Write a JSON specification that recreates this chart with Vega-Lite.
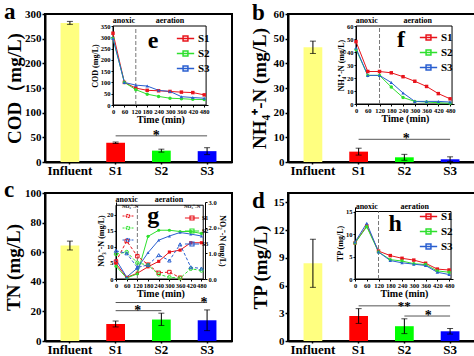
{
"$schema":"https://vega.github.io/schema/vega-lite/v6.json",
"autosize":{"type":"pad"},
"padding":{"left":2,"top":0,"right":0,"bottom":0},
"background":"white",
"config":{
 "font":"Liberation Serif",
 "view":{"stroke":"black","strokeWidth":2},
 "axis":{"grid":false,"labelOverlap":false,"domainColor":"black","domainWidth":2,"tickColor":"black","tickWidth":1.5,"labelColor":"black","titleColor":"black","labelFont":"Liberation Serif","titleFont":"Liberation Serif","labelFontWeight":"bold","titleFontWeight":"bold"},
 "legend":{"labelFont":"Liberation Serif","labelFontWeight":"bold","titleFont":"Liberation Serif","labelColor":"black"},
 "text":{"font":"Liberation Serif","fontWeight":"bold","color":"black"}
},
"datasets":{
 "one":[{}],
 "bar_a":[{"group":"Influent","mean":282,"lo":279,"hi":285},{"group":"S1","mean":39,"lo":37.5,"hi":40.5},{"group":"S2","mean":23,"lo":20,"hi":26},{"group":"S3","mean":22,"lo":15,"hi":29}],
 "sig_a":[{"from":"S1","to":"S3","at":"S2","y":53,"label":"*","k":1}],
 "bar_b":[{"group":"Influent","mean":46.5,"lo":44,"hi":49},{"group":"S1","mean":4.2,"lo":2.8,"hi":5.6},{"group":"S2","mean":1.9,"lo":0.7,"hi":3.1},{"group":"S3","mean":1.1,"lo":0.2,"hi":2.1}],
 "sig_b":[{"from":"S1","to":"S3","at":"S2","y":9.2,"label":"*","k":1}],
 "bar_c":[{"group":"Influent","mean":64.5,"lo":61.5,"hi":67.5},{"group":"S1","mean":11.5,"lo":9.5,"hi":13.5},{"group":"S2","mean":14.5,"lo":10.5,"hi":18.8},{"group":"S3","mean":14,"lo":7,"hi":21}],
 "sig_c":[{"from":"S1","to":"S3","at":"S3","y":26,"label":"*","k":1},{"from":"S1","to":"S2","at":"S1","y":20.5,"label":"*","k":2}],
 "bar_d":[{"group":"Influent","mean":8.4,"lo":5.8,"hi":11.0},{"group":"S1","mean":2.7,"lo":1.9,"hi":3.5},{"group":"S2","mean":1.6,"lo":0.8,"hi":2.4},{"group":"S3","mean":1.05,"lo":0.75,"hi":1.35}],
 "sig_d":[{"from":"S1","to":"S3","at":"S2","y":3.8,"label":"**","k":1},{"from":"S2","to":"S3","at":"S2","y":2.7,"label":"*","k":2}],
 "cod":[
  {"t":0,"s":"S1","v":318},{"t":60,"s":"S1","v":100},{"t":120,"s":"S1","v":75},{"t":180,"s":"S1","v":65},{"t":240,"s":"S1","v":63},{"t":300,"s":"S1","v":60},{"t":360,"s":"S1","v":57},{"t":420,"s":"S1","v":55},{"t":480,"s":"S1","v":45},
  {"t":0,"s":"S2","v":295},{"t":60,"s":"S2","v":100},{"t":120,"s":"S2","v":68},{"t":180,"s":"S2","v":48},{"t":240,"s":"S2","v":38},{"t":300,"s":"S2","v":30},{"t":360,"s":"S2","v":28},{"t":420,"s":"S2","v":25},{"t":480,"s":"S2","v":24},
  {"t":0,"s":"S3","v":295},{"t":60,"s":"S3","v":100},{"t":120,"s":"S3","v":88},{"t":180,"s":"S3","v":84},{"t":240,"s":"S3","v":65},{"t":300,"s":"S3","v":60},{"t":360,"s":"S3","v":37},{"t":420,"s":"S3","v":33},{"t":480,"s":"S3","v":30}],
 "nh4":[
  {"t":0,"s":"S1","v":48},{"t":60,"s":"S1","v":25},{"t":120,"s":"S1","v":25},{"t":180,"s":"S1","v":24},{"t":240,"s":"S1","v":21},{"t":300,"s":"S1","v":17.5},{"t":360,"s":"S1","v":13.5},{"t":420,"s":"S1","v":8},{"t":480,"s":"S1","v":4},
  {"t":0,"s":"S2","v":42},{"t":60,"s":"S2","v":22},{"t":120,"s":"S2","v":22},{"t":180,"s":"S2","v":13},{"t":240,"s":"S2","v":5},{"t":300,"s":"S2","v":2},{"t":360,"s":"S2","v":1.5},{"t":420,"s":"S2","v":1},{"t":480,"s":"S2","v":0.5},
  {"t":0,"s":"S3","v":43},{"t":60,"s":"S3","v":22},{"t":120,"s":"S3","v":22},{"t":180,"s":"S3","v":16.5},{"t":240,"s":"S3","v":8.5},{"t":300,"s":"S3","v":2},{"t":360,"s":"S3","v":2},{"t":420,"s":"S3","v":2},{"t":480,"s":"S3","v":1.5}],
 "no3":[
  {"t":0,"s":"S1","v":4.8},{"t":60,"s":"S1","v":0.5},{"t":120,"s":"S1","v":1.8},{"t":180,"s":"S1","v":3.8},{"t":240,"s":"S1","v":5.5},{"t":300,"s":"S1","v":8.4},{"t":360,"s":"S1","v":9},{"t":420,"s":"S1","v":11.3},{"t":480,"s":"S1","v":11.3},
  {"t":0,"s":"S2","v":4},{"t":60,"s":"S2","v":0.3},{"t":120,"s":"S2","v":1.6},{"t":180,"s":"S2","v":13.3},{"t":240,"s":"S2","v":15.2},{"t":300,"s":"S2","v":15.2},{"t":360,"s":"S2","v":14.8},{"t":420,"s":"S2","v":14.8},{"t":480,"s":"S2","v":14.2},
  {"t":0,"s":"S3","v":6},{"t":60,"s":"S3","v":0.6},{"t":120,"s":"S3","v":3.4},{"t":180,"s":"S3","v":8.2},{"t":240,"s":"S3","v":12.1},{"t":300,"s":"S3","v":13.4},{"t":360,"s":"S3","v":14.5},{"t":420,"s":"S3","v":14},{"t":480,"s":"S3","v":13.4}],
 "no2":[
  {"t":0,"s":"S1","v":0.68},{"t":60,"s":"S1","v":1.48},{"t":120,"s":"S1","v":0.89},{"t":180,"s":"S1","v":0.56},{"t":240,"s":"S1","v":0.24},{"t":300,"s":"S1","v":0.27},{"t":360,"s":"S1","v":0.05},
  {"t":0,"s":"S2","v":0.97},{"t":60,"s":"S2","v":1.05},{"t":120,"s":"S2","v":0.63},{"t":180,"s":"S2","v":0.54},{"t":240,"s":"S2","v":0.18},{"t":300,"s":"S2","v":0.07},{"t":360,"s":"S2","v":0.03},{"t":420,"s":"S2","v":0.4},{"t":480,"s":"S2","v":0.33},
  {"t":0,"s":"S3","v":1.1},{"t":60,"s":"S3","v":1.0},{"t":120,"s":"S3","v":0.45},{"t":180,"s":"S3","v":0.55},{"t":240,"s":"S3","v":0.93},{"t":300,"s":"S3","v":0.72},{"t":360,"s":"S3","v":1.35},{"t":420,"s":"S3","v":0.46},{"t":480,"s":"S3","v":0.41}],
 "tp":[
  {"t":0,"s":"S1","v":8},{"t":60,"s":"S1","v":11.8},{"t":120,"s":"S1","v":6.2},{"t":180,"s":"S1","v":5.2},{"t":240,"s":"S1","v":4.6},{"t":300,"s":"S1","v":4.2},{"t":360,"s":"S1","v":3.5},{"t":420,"s":"S1","v":2.2},{"t":480,"s":"S1","v":2.0},
  {"t":0,"s":"S2","v":8},{"t":60,"s":"S2","v":11.6},{"t":120,"s":"S2","v":6.0},{"t":180,"s":"S2","v":4.3},{"t":240,"s":"S2","v":4.0},{"t":300,"s":"S2","v":3.4},{"t":360,"s":"S2","v":3.2},{"t":420,"s":"S2","v":1.8},{"t":480,"s":"S2","v":1.5},
  {"t":0,"s":"S3","v":8.2},{"t":60,"s":"S3","v":12.4},{"t":120,"s":"S3","v":6.0},{"t":180,"s":"S3","v":4.1},{"t":240,"s":"S3","v":3.6},{"t":300,"s":"S3","v":3.3},{"t":360,"s":"S3","v":3.0},{"t":420,"s":"S3","v":1.5},{"t":480,"s":"S3","v":1.0}]
},
"columns":2,
"spacing":{"row":31,"column":56},
"bounds":"flush",
"concat":[
{
 "width":187,"height":148,
 "layer":[
  {"layer":[
   {"data":{"name":"bar_a"},"mark":{"type":"bar"},"encoding":{
     "x":{"field":"group","type":"nominal","sort":["Influent","S1","S2","S3"],"scale":{"paddingInner":0.59,"paddingOuter":0.34},"axis":{"title":null,"labelAngle":0,"labelFontSize":13,"tickSize":2,"labelPadding":0}},
     "y":{"field":"mean","type":"quantitative","scale":{"domain":[0,300]},"axis":{"title":"COD（mg/L)","values":[0,50,100,150,200,250,300],"tickCount":20,"labelOverlap":false,"labelFontSize":11,"titleFontSize":19,"tickSize":3,"labelPadding":1,"titlePadding":0}},
     "color":{"field":"group","type":"nominal","scale":{"domain":["Influent","S1","S2","S3"],"range":["#ffff80","#ff0000","#00ff00","#0000ff"]},"legend":null}}},
   {"data":{"name":"bar_a"},"mark":{"type":"rule","color":"black","strokeWidth":1},"encoding":{"x":{"field":"group","type":"nominal","sort":["Influent","S1","S2","S3"]},"y":{"field":"lo","type":"quantitative"},"y2":{"field":"hi"}}},
   {"data":{"name":"bar_a"},"mark":{"type":"tick","color":"black","size":6,"thickness":1},"encoding":{"x":{"field":"group","type":"nominal","sort":["Influent","S1","S2","S3"]},"y":{"field":"lo","type":"quantitative"}}},
   {"data":{"name":"bar_a"},"mark":{"type":"tick","color":"black","size":6,"thickness":1},"encoding":{"x":{"field":"group","type":"nominal","sort":["Influent","S1","S2","S3"]},"y":{"field":"hi","type":"quantitative"}}},
   {"data":{"name":"sig_a"},"mark":{"type":"rule","color":"#555555","strokeWidth":1},"encoding":{"x":{"field":"from","type":"nominal","sort":["Influent","S1","S2","S3"]},"x2":{"field":"to"},"y":{"field":"y","type":"quantitative"}}},
   {"data":{"name":"sig_a"},"mark":{"type":"text","fontSize":14,"dy":4,"dx":-5,"baseline":"alphabetic"},"encoding":{"x":{"field":"at","type":"nominal","sort":["Influent","S1","S2","S3"]},"y":{"field":"y","type":"quantitative"},"text":{"field":"label"}}},
   {"data":{"name":"one"},"mark":{"type":"text","fontSize":23,"baseline":"alphabetic","align":"left","dx":-66,"dy":5},"encoding":{"x":{"datum":"Influent","type":"nominal"},"y":{"datum":300,"type":"quantitative"},"text":{"value":"a"}}}
  ]},
  {"layer":[
   {"data":{"name":"one"},"mark":{"type":"rect","fillOpacity":0,"stroke":"black","strokeWidth":1},"encoding":{"x":{"datum":0,"type":"quantitative","scale":{"domain":[0,490],"range":[68,163]}},"x2":{"datum":490},"y":{"datum":0,"type":"quantitative","scale":{"domain":[0,350],"range":[91,12]}},"y2":{"datum":350}}},
   {"data":{"name":"one"},"mark":{"type":"rule","color":"#777777","strokeWidth":1,"strokeDash":[4,2]},"encoding":{"x":{"datum":120,"type":"quantitative"},"y":{"datum":0,"type":"quantitative"},"y2":{"datum":350}}},
   {"data":{"name":"cod"},"mark":{"type":"line","strokeWidth":1},"encoding":{
     "x":{"field":"t","type":"quantitative","scale":{"domain":[0,490],"range":[68,163]},"axis":{"orient":"bottom","offset":-57,"values":[0,60,120,180,240,300,360,420,480],"tickCount":20,"labelOverlap":false,"title":"Time (min)","titleFontSize":10,"labelFontSize":6.5,"tickSize":2,"tickWidth":1,"labelPadding":1,"titlePadding":0,"domainWidth":1,"labelFlush":false}},
     "y":{"field":"v","type":"quantitative","scale":{"domain":[0,350],"range":[91,12]},"axis":{"orient":"left","offset":-68,"values":[0,50,100,150,200,250,300,350],"tickCount":20,"labelOverlap":false,"title":"COD (mg/L)","titleFontSize":8,"labelFontSize":6.5,"tickSize":2,"tickWidth":1,"labelPadding":1,"titlePadding":1,"domainWidth":1}},
     "color":{"field":"s","type":"nominal","scale":{"domain":["S1","S2","S3"],"range":["#e8141c","#2ee02e","#2a5fd0"]},"legend":{"orient":"none","legendX":131,"legendY":15,"title":null,"labelFontSize":11,"symbolType":"M-1,0H1M-0.28,-0.28H0.28V0.28H-0.28Z","symbolSize":300,"symbolStrokeWidth":1.5,"rowPadding":0,"labelOffset":3}}}},
   {"data":{"name":"cod"},"transform":[{"filter":"datum.s=='S1'"}],"mark":{"type":"point","shape":"square","filled":true,"size":12,"opacity":1,"color":"#e8141c"},"encoding":{"x":{"field":"t","type":"quantitative"},"y":{"field":"v","type":"quantitative"}}},
   {"data":{"name":"cod"},"transform":[{"filter":"datum.s=='S2'"}],"mark":{"type":"point","shape":"circle","filled":true,"size":12,"opacity":1,"color":"#2ee02e"},"encoding":{"x":{"field":"t","type":"quantitative"},"y":{"field":"v","type":"quantitative"}}},
   {"data":{"name":"cod"},"transform":[{"filter":"datum.s=='S3'"}],"mark":{"type":"point","shape":"triangle-up","filled":true,"size":12,"opacity":1,"color":"#2a5fd0"},"encoding":{"x":{"field":"t","type":"quantitative"},"y":{"field":"v","type":"quantitative"}}},
   {"data":{"name":"one"},"mark":{"type":"text","fontSize":8,"baseline":"bottom","dy":-1},"encoding":{"x":{"datum":57,"type":"quantitative"},"y":{"datum":350,"type":"quantitative"},"text":{"value":"anoxic"}}},
   {"data":{"name":"one"},"mark":{"type":"text","fontSize":8,"baseline":"bottom","dy":-1},"encoding":{"x":{"datum":300,"type":"quantitative"},"y":{"datum":350,"type":"quantitative"},"text":{"value":"aeration"}}},
   {"data":{"name":"one"},"mark":{"type":"text","fontSize":24,"baseline":"middle"},"encoding":{"x":{"datum":211,"type":"quantitative"},"y":{"datum":283,"type":"quantitative"},"text":{"value":"e"}}}
  ]}
 ],
 "resolve":{"scale":{"x":"independent","y":"independent","color":"independent"}}
},
{
 "width":187,"height":148,
 "layer":[
  {"layer":[
   {"data":{"name":"bar_b"},"mark":{"type":"bar"},"encoding":{
     "x":{"field":"group","type":"nominal","sort":["Influent","S1","S2","S3"],"scale":{"paddingInner":0.59,"paddingOuter":0.34},"axis":{"title":null,"labelAngle":0,"labelFontSize":13,"tickSize":2,"labelPadding":0}},
     "y":{"field":"mean","type":"quantitative","scale":{"domain":[0,60]},"axis":{"title":"NH₄⁺-N (mg/L)","values":[0,10,20,30,40,50,60],"tickCount":20,"labelOverlap":false,"labelFontSize":11,"titleFontSize":19,"tickSize":3,"labelPadding":1,"titlePadding":4}},
     "color":{"field":"group","type":"nominal","scale":{"domain":["Influent","S1","S2","S3"],"range":["#ffff80","#ff0000","#00ff00","#0000ff"]},"legend":null}}},
   {"data":{"name":"bar_b"},"mark":{"type":"rule","color":"black","strokeWidth":1},"encoding":{"x":{"field":"group","type":"nominal","sort":["Influent","S1","S2","S3"]},"y":{"field":"lo","type":"quantitative"},"y2":{"field":"hi"}}},
   {"data":{"name":"bar_b"},"mark":{"type":"tick","color":"black","size":6,"thickness":1},"encoding":{"x":{"field":"group","type":"nominal","sort":["Influent","S1","S2","S3"]},"y":{"field":"lo","type":"quantitative"}}},
   {"data":{"name":"bar_b"},"mark":{"type":"tick","color":"black","size":6,"thickness":1},"encoding":{"x":{"field":"group","type":"nominal","sort":["Influent","S1","S2","S3"]},"y":{"field":"hi","type":"quantitative"}}},
   {"data":{"name":"sig_b"},"mark":{"type":"rule","color":"#555555","strokeWidth":1},"encoding":{"x":{"field":"from","type":"nominal","sort":["Influent","S1","S2","S3"]},"x2":{"field":"to"},"y":{"field":"y","type":"quantitative"}}},
   {"data":{"name":"sig_b"},"mark":{"type":"text","fontSize":14,"dy":4,"dx":2,"baseline":"alphabetic"},"encoding":{"x":{"field":"at","type":"nominal","sort":["Influent","S1","S2","S3"]},"y":{"field":"y","type":"quantitative"},"text":{"field":"label"}}},
   {"data":{"name":"one"},"mark":{"type":"text","fontSize":23,"baseline":"alphabetic","align":"left","dx":-61,"dy":6},"encoding":{"x":{"datum":"Influent","type":"nominal"},"y":{"datum":60,"type":"quantitative"},"text":{"value":"b"}}}
  ]},
  {"layer":[
   {"data":{"name":"one"},"mark":{"type":"rect","fillOpacity":0,"stroke":"black","strokeWidth":1},"encoding":{"x":{"datum":0,"type":"quantitative","scale":{"domain":[0,490],"range":[68,166]}},"x2":{"datum":490},"y":{"datum":0,"type":"quantitative","scale":{"domain":[0,60],"range":[90,12]}},"y2":{"datum":60}}},
   {"data":{"name":"one"},"mark":{"type":"rule","color":"#777777","strokeWidth":1,"strokeDash":[4,2]},"encoding":{"x":{"datum":120,"type":"quantitative"},"y":{"datum":0,"type":"quantitative"},"y2":{"datum":60}}},
   {"data":{"name":"nh4"},"mark":{"type":"line","strokeWidth":1},"encoding":{
     "x":{"field":"t","type":"quantitative","scale":{"domain":[0,490],"range":[68,166]},"axis":{"orient":"bottom","offset":-58,"values":[0,60,120,180,240,300,360,420,480],"tickCount":20,"labelOverlap":false,"title":"Time (min)","titleFontSize":10,"labelFontSize":6.5,"tickSize":2,"tickWidth":1,"labelPadding":1,"titlePadding":0,"domainWidth":1,"labelFlush":false}},
     "y":{"field":"v","type":"quantitative","scale":{"domain":[0,60],"range":[90,12]},"axis":{"orient":"left","offset":-68,"values":[0,10,20,30,40,50,60],"tickCount":20,"labelOverlap":false,"title":"NH₄⁺-N (mg/L)","titleFontSize":8,"labelFontSize":6.5,"tickSize":2,"tickWidth":1,"labelPadding":1,"titlePadding":1,"domainWidth":1}},
     "color":{"field":"s","type":"nominal","scale":{"domain":["S1","S2","S3"],"range":["#e8141c","#2ee02e","#2a5fd0"]},"legend":{"orient":"none","legendX":131,"legendY":14,"title":null,"labelFontSize":11,"symbolType":"M-1,0H1M-0.28,-0.28H0.28V0.28H-0.28Z","symbolSize":300,"symbolStrokeWidth":1.5,"rowPadding":0,"labelOffset":3}}}},
   {"data":{"name":"nh4"},"transform":[{"filter":"datum.s=='S1'"}],"mark":{"type":"point","shape":"square","filled":true,"size":12,"opacity":1,"color":"#e8141c"},"encoding":{"x":{"field":"t","type":"quantitative"},"y":{"field":"v","type":"quantitative"}}},
   {"data":{"name":"nh4"},"transform":[{"filter":"datum.s=='S2'"}],"mark":{"type":"point","shape":"circle","filled":true,"size":12,"opacity":1,"color":"#2ee02e"},"encoding":{"x":{"field":"t","type":"quantitative"},"y":{"field":"v","type":"quantitative"}}},
   {"data":{"name":"nh4"},"transform":[{"filter":"datum.s=='S3'"}],"mark":{"type":"point","shape":"triangle-up","filled":true,"size":12,"opacity":1,"color":"#2a5fd0"},"encoding":{"x":{"field":"t","type":"quantitative"},"y":{"field":"v","type":"quantitative"}}},
   {"data":{"name":"one"},"mark":{"type":"text","fontSize":8,"baseline":"bottom","dy":-1},"encoding":{"x":{"datum":55,"type":"quantitative"},"y":{"datum":60,"type":"quantitative"},"text":{"value":"anoxic"}}},
   {"data":{"name":"one"},"mark":{"type":"text","fontSize":8,"baseline":"bottom","dy":-1},"encoding":{"x":{"datum":315,"type":"quantitative"},"y":{"datum":60,"type":"quantitative"},"text":{"value":"aeration"}}},
   {"data":{"name":"one"},"mark":{"type":"text","fontSize":24,"baseline":"middle"},"encoding":{"x":{"datum":230,"type":"quantitative"},"y":{"datum":49,"type":"quantitative"},"text":{"value":"f"}}}
  ]}
 ],
 "resolve":{"scale":{"x":"independent","y":"independent","color":"independent"}}
},
{
 "width":187,"height":148,
 "layer":[
  {"layer":[
   {"data":{"name":"bar_c"},"mark":{"type":"bar"},"encoding":{
     "x":{"field":"group","type":"nominal","sort":["Influent","S1","S2","S3"],"scale":{"paddingInner":0.59,"paddingOuter":0.34},"axis":{"title":null,"labelAngle":0,"labelFontSize":13,"tickSize":2,"labelPadding":0}},
     "y":{"field":"mean","type":"quantitative","scale":{"domain":[0,100]},"axis":{"title":"TN (mg/L)","values":[0,20,40,60,80,100],"tickCount":20,"labelOverlap":false,"labelFontSize":11,"titleFontSize":19,"tickSize":3,"labelPadding":1,"titlePadding":1}},
     "color":{"field":"group","type":"nominal","scale":{"domain":["Influent","S1","S2","S3"],"range":["#ffff80","#ff0000","#00ff00","#0000ff"]},"legend":null}}},
   {"data":{"name":"bar_c"},"mark":{"type":"rule","color":"black","strokeWidth":1},"encoding":{"x":{"field":"group","type":"nominal","sort":["Influent","S1","S2","S3"]},"y":{"field":"lo","type":"quantitative"},"y2":{"field":"hi"}}},
   {"data":{"name":"bar_c"},"mark":{"type":"tick","color":"black","size":6,"thickness":1},"encoding":{"x":{"field":"group","type":"nominal","sort":["Influent","S1","S2","S3"]},"y":{"field":"lo","type":"quantitative"}}},
   {"data":{"name":"bar_c"},"mark":{"type":"tick","color":"black","size":6,"thickness":1},"encoding":{"x":{"field":"group","type":"nominal","sort":["Influent","S1","S2","S3"]},"y":{"field":"hi","type":"quantitative"}}},
   {"data":{"name":"sig_c"},"mark":{"type":"rule","color":"#555555","strokeWidth":1},"encoding":{"x":{"field":"from","type":"nominal","sort":["Influent","S1","S2","S3"]},"x2":{"field":"to"},"y":{"field":"y","type":"quantitative"}}},
   {"data":{"name":"sig_c"},"transform":[{"filter":"datum.k==1"}],"mark":{"type":"text","fontSize":14,"dy":4,"dx":-3,"baseline":"alphabetic"},"encoding":{"x":{"field":"at","type":"nominal","sort":["Influent","S1","S2","S3"]},"y":{"field":"y","type":"quantitative"},"text":{"field":"label"}}},
   {"data":{"name":"sig_c"},"transform":[{"filter":"datum.k==2"}],"mark":{"type":"text","fontSize":14,"dy":4,"dx":22,"baseline":"alphabetic"},"encoding":{"x":{"field":"at","type":"nominal","sort":["Influent","S1","S2","S3"]},"y":{"field":"y","type":"quantitative"},"text":{"field":"label"}}},
   {"data":{"name":"one"},"mark":{"type":"text","fontSize":23,"baseline":"alphabetic","align":"left","dx":-66,"dy":4},"encoding":{"x":{"datum":"Influent","type":"nominal"},"y":{"datum":100,"type":"quantitative"},"text":{"value":"c"}}}
  ]},
  {"layer":[
   {"layer":[
    {"data":{"name":"one"},"mark":{"type":"rect","fillOpacity":0,"stroke":"black","strokeWidth":1},"encoding":{"x":{"datum":0,"type":"quantitative","scale":{"domain":[0,490],"range":[71,160]}},"x2":{"datum":490},"y":{"datum":0,"type":"quantitative","scale":{"domain":[0,23],"range":[86,9]}},"y2":{"datum":23}}},
    {"data":{"name":"one"},"mark":{"type":"rule","color":"#777777","strokeWidth":1,"strokeDash":[4,2]},"encoding":{"x":{"datum":120,"type":"quantitative"},"y":{"datum":0,"type":"quantitative"},"y2":{"datum":23}}},
    {"data":{"name":"no3"},"mark":{"type":"line","strokeWidth":1},"encoding":{
      "x":{"field":"t","type":"quantitative","scale":{"domain":[0,490],"range":[71,160]},"axis":{"orient":"bottom","offset":-62,"values":[0,60,120,180,240,300,360,420,480],"tickCount":20,"labelOverlap":false,"title":"Time (min)","titleFontSize":10,"labelFontSize":6.5,"tickSize":2,"tickWidth":1,"labelPadding":1,"titlePadding":0,"domainWidth":1,"labelFlush":false}},
      "y":{"field":"v","type":"quantitative","scale":{"domain":[0,23],"range":[86,9]},"axis":{"orient":"left","offset":-71,"values":[0,5,10,15,20],"tickCount":20,"labelOverlap":false,"title":"NO₃⁻-N (mg/L)","titleFontSize":8,"labelFontSize":6.5,"tickSize":2,"tickWidth":1,"labelPadding":1,"titlePadding":1,"domainWidth":1}},
      "color":{"field":"s","type":"nominal","scale":{"domain":["S1","S2","S3"],"range":["#e8141c","#2ee02e","#2a5fd0"]},"legend":{"orient":"none","legendX":139,"legendY":11,"title":"NO₃⁻-N","titleFontSize":5,"titlePadding":1,"labelFontSize":6,"symbolType":"M-1,0H1M-0.28,-0.28H0.28V0.28H-0.28Z","symbolSize":200,"symbolStrokeWidth":1.2,"rowPadding":0,"labelOffset":2}}}},
    {"data":{"name":"no3"},"transform":[{"filter":"datum.s=='S1'"}],"mark":{"type":"point","shape":"square","filled":true,"size":10,"opacity":1,"color":"#e8141c"},"encoding":{"x":{"field":"t","type":"quantitative"},"y":{"field":"v","type":"quantitative"}}},
    {"data":{"name":"no3"},"transform":[{"filter":"datum.s=='S2'"}],"mark":{"type":"point","shape":"circle","filled":true,"size":10,"opacity":1,"color":"#2ee02e"},"encoding":{"x":{"field":"t","type":"quantitative"},"y":{"field":"v","type":"quantitative"}}},
    {"data":{"name":"no3"},"transform":[{"filter":"datum.s=='S3'"}],"mark":{"type":"point","shape":"triangle-up","filled":true,"size":10,"opacity":1,"color":"#2a5fd0"},"encoding":{"x":{"field":"t","type":"quantitative"},"y":{"field":"v","type":"quantitative"}}},
    {"data":{"name":"one"},"mark":{"type":"text","fontSize":8,"baseline":"bottom","dy":-1},"encoding":{"x":{"datum":60,"type":"quantitative"},"y":{"datum":23,"type":"quantitative"},"text":{"value":"anoxic"}}},
    {"data":{"name":"one"},"mark":{"type":"text","fontSize":8,"baseline":"bottom","dy":-1},"encoding":{"x":{"datum":297,"type":"quantitative"},"y":{"datum":23,"type":"quantitative"},"text":{"value":"aeration"}}},
    {"data":{"name":"one"},"mark":{"type":"text","fontSize":24,"baseline":"middle"},"encoding":{"x":{"datum":209,"type":"quantitative"},"y":{"datum":19.5,"type":"quantitative"},"text":{"value":"g"}}}
   ]},
   {"layer":[
    {"data":{"name":"no2"},"mark":{"type":"line","strokeWidth":1,"strokeDash":[3,2]},"encoding":{
      "x":{"field":"t","type":"quantitative"},
      "y":{"field":"v","type":"quantitative","scale":{"domain":[0,3],"range":[86,9]},"axis":{"orient":"right","offset":-27,"values":[0,1,2,3],"tickCount":20,"labelOverlap":false,"title":"NO₂⁻-N (mg/L)","titleFontSize":8,"labelFontSize":6.5,"tickSize":2,"tickWidth":1,"labelPadding":1,"titlePadding":1,"domainWidth":1}},
      "color":{"field":"s","type":"nominal","scale":{"domain":["S1","S2","S3"],"range":["#e8141c","#2ee02e","#2a5fd0"]},"legend":{"orient":"none","legendX":77,"legendY":11,"title":"NO₂⁻-N","titleFontSize":5,"titlePadding":1,"labelFontSize":6,"labelExpr":"''","symbolType":"M-1,0H1M-0.28,-0.28H0.28V0.28H-0.28Z","symbolSize":120,"symbolStrokeWidth":1,"symbolDash":[2,1],"rowPadding":2,"labelOffset":0}}}},
    {"data":{"name":"no2"},"transform":[{"filter":"datum.s=='S1'"}],"mark":{"type":"point","shape":"square","filled":false,"size":12,"strokeWidth":1,"opacity":1,"color":"#e8141c"},"encoding":{"x":{"field":"t","type":"quantitative"},"y":{"field":"v","type":"quantitative"}}},
    {"data":{"name":"no2"},"transform":[{"filter":"datum.s=='S2'"}],"mark":{"type":"point","shape":"circle","filled":false,"size":12,"strokeWidth":1,"opacity":1,"color":"#2ee02e"},"encoding":{"x":{"field":"t","type":"quantitative"},"y":{"field":"v","type":"quantitative"}}},
    {"data":{"name":"no2"},"transform":[{"filter":"datum.s=='S3'"}],"mark":{"type":"point","shape":"triangle-up","filled":false,"size":12,"strokeWidth":1,"opacity":1,"color":"#2a5fd0"},"encoding":{"x":{"field":"t","type":"quantitative"},"y":{"field":"v","type":"quantitative"}}}
   ]}
  ],
  "resolve":{"scale":{"y":"independent","color":"independent"}}}
 ],
 "resolve":{"scale":{"x":"independent","y":"independent","color":"independent"}}
},
{
 "width":187,"height":148,
 "layer":[
  {"layer":[
   {"data":{"name":"bar_d"},"mark":{"type":"bar"},"encoding":{
     "x":{"field":"group","type":"nominal","sort":["Influent","S1","S2","S3"],"scale":{"paddingInner":0.59,"paddingOuter":0.34},"axis":{"title":null,"labelAngle":0,"labelFontSize":13,"tickSize":2,"labelPadding":0}},
     "y":{"field":"mean","type":"quantitative","scale":{"domain":[0,15]},"axis":{"title":"TP (mg/L)","values":[0,3,6,9,12,15],"tickCount":20,"labelOverlap":false,"labelFontSize":11,"titleFontSize":19,"tickSize":3,"labelPadding":1,"titlePadding":3}},
     "color":{"field":"group","type":"nominal","scale":{"domain":["Influent","S1","S2","S3"],"range":["#ffff80","#ff0000","#00ff00","#0000ff"]},"legend":null}}},
   {"data":{"name":"bar_d"},"mark":{"type":"rule","color":"black","strokeWidth":1},"encoding":{"x":{"field":"group","type":"nominal","sort":["Influent","S1","S2","S3"]},"y":{"field":"lo","type":"quantitative"},"y2":{"field":"hi"}}},
   {"data":{"name":"bar_d"},"mark":{"type":"tick","color":"black","size":6,"thickness":1},"encoding":{"x":{"field":"group","type":"nominal","sort":["Influent","S1","S2","S3"]},"y":{"field":"lo","type":"quantitative"}}},
   {"data":{"name":"bar_d"},"mark":{"type":"tick","color":"black","size":6,"thickness":1},"encoding":{"x":{"field":"group","type":"nominal","sort":["Influent","S1","S2","S3"]},"y":{"field":"hi","type":"quantitative"}}},
   {"data":{"name":"sig_d"},"mark":{"type":"rule","color":"#555555","strokeWidth":1},"encoding":{"x":{"field":"from","type":"nominal","sort":["Influent","S1","S2","S3"]},"x2":{"field":"to"},"y":{"field":"y","type":"quantitative"}}},
   {"data":{"name":"sig_d"},"transform":[{"filter":"datum.k==1"}],"mark":{"type":"text","fontSize":13,"dy":4,"dx":0,"baseline":"alphabetic"},"encoding":{"x":{"field":"at","type":"nominal","sort":["Influent","S1","S2","S3"]},"y":{"field":"y","type":"quantitative"},"text":{"field":"label"}}},
   {"data":{"name":"sig_d"},"transform":[{"filter":"datum.k==2"}],"mark":{"type":"text","fontSize":14,"dy":4,"dx":24,"baseline":"alphabetic"},"encoding":{"x":{"field":"at","type":"nominal","sort":["Influent","S1","S2","S3"]},"y":{"field":"y","type":"quantitative"},"text":{"field":"label"}}},
   {"data":{"name":"one"},"mark":{"type":"text","fontSize":23,"baseline":"alphabetic","align":"left","dx":-61,"dy":6},"encoding":{"x":{"datum":"Influent","type":"nominal"},"y":{"datum":15,"type":"quantitative"},"text":{"value":"d"}}}
  ]},
  {"layer":[
   {"data":{"name":"one"},"mark":{"type":"rect","fillOpacity":0,"stroke":"black","strokeWidth":1},"encoding":{"x":{"datum":0,"type":"quantitative","scale":{"domain":[0,490],"range":[67,165]}},"x2":{"datum":490},"y":{"datum":0,"type":"quantitative","scale":{"domain":[0,15],"range":[86,14]}},"y2":{"datum":15}}},
   {"data":{"name":"one"},"mark":{"type":"rule","color":"#777777","strokeWidth":1,"strokeDash":[4,2]},"encoding":{"x":{"datum":120,"type":"quantitative"},"y":{"datum":0,"type":"quantitative"},"y2":{"datum":15}}},
   {"data":{"name":"tp"},"mark":{"type":"line","strokeWidth":1},"encoding":{
     "x":{"field":"t","type":"quantitative","scale":{"domain":[0,490],"range":[67,165]},"axis":{"orient":"bottom","offset":-62,"values":[0,60,120,180,240,300,360,420,480],"tickCount":20,"labelOverlap":false,"title":"Time (min)","titleFontSize":10,"labelFontSize":6.5,"tickSize":2,"tickWidth":1,"labelPadding":1,"titlePadding":0,"domainWidth":1,"labelFlush":false}},
     "y":{"field":"v","type":"quantitative","scale":{"domain":[0,15],"range":[86,14]},"axis":{"orient":"left","offset":-67,"values":[0,5,10,15],"tickCount":20,"labelOverlap":false,"title":"TP (mg/L)","titleFontSize":8,"labelFontSize":6.5,"tickSize":2,"tickWidth":1,"labelPadding":1,"titlePadding":1,"domainWidth":1}},
     "color":{"field":"s","type":"nominal","scale":{"domain":["S1","S2","S3"],"range":["#e8141c","#2ee02e","#2a5fd0"]},"legend":{"orient":"none","legendX":131,"legendY":14,"title":null,"labelFontSize":11,"symbolType":"M-1,0H1M-0.28,-0.28H0.28V0.28H-0.28Z","symbolSize":300,"symbolStrokeWidth":1.5,"rowPadding":0,"labelOffset":3}}}},
   {"data":{"name":"tp"},"transform":[{"filter":"datum.s=='S1'"}],"mark":{"type":"point","shape":"square","filled":true,"size":12,"opacity":1,"color":"#e8141c"},"encoding":{"x":{"field":"t","type":"quantitative"},"y":{"field":"v","type":"quantitative"}}},
   {"data":{"name":"tp"},"transform":[{"filter":"datum.s=='S2'"}],"mark":{"type":"point","shape":"circle","filled":true,"size":12,"opacity":1,"color":"#2ee02e"},"encoding":{"x":{"field":"t","type":"quantitative"},"y":{"field":"v","type":"quantitative"}}},
   {"data":{"name":"tp"},"transform":[{"filter":"datum.s=='S3'"}],"mark":{"type":"point","shape":"triangle-up","filled":true,"size":12,"opacity":1,"color":"#2a5fd0"},"encoding":{"x":{"field":"t","type":"quantitative"},"y":{"field":"v","type":"quantitative"}}},
   {"data":{"name":"one"},"mark":{"type":"text","fontSize":8,"baseline":"bottom","dy":-1},"encoding":{"x":{"datum":60,"type":"quantitative"},"y":{"datum":15,"type":"quantitative"},"text":{"value":"anoxic"}}},
   {"data":{"name":"one"},"mark":{"type":"text","fontSize":8,"baseline":"bottom","dy":-1},"encoding":{"x":{"datum":305,"type":"quantitative"},"y":{"datum":15,"type":"quantitative"},"text":{"value":"aeration"}}},
   {"data":{"name":"one"},"mark":{"type":"text","fontSize":24,"baseline":"middle"},"encoding":{"x":{"datum":205,"type":"quantitative"},"y":{"datum":12.3,"type":"quantitative"},"text":{"value":"h"}}}
  ]}
 ],
 "resolve":{"scale":{"x":"independent","y":"independent","color":"independent"}}
}
]
}
